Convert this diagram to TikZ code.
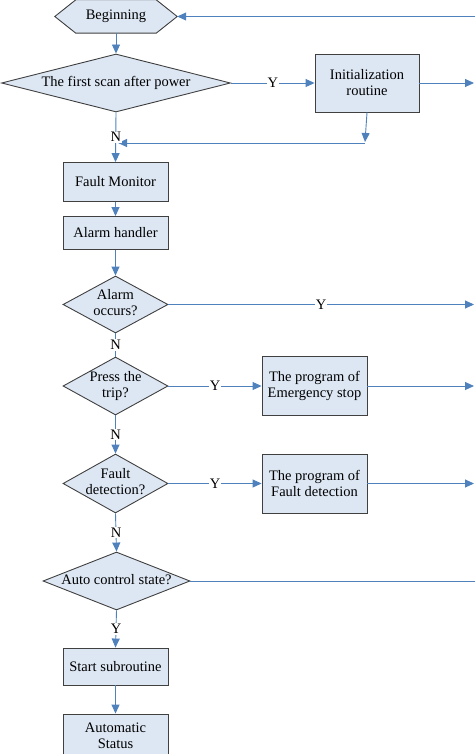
\documentclass[tikz,border=0pt]{standalone}
\usepackage{fontspec}
\setmainfont{Liberation Serif}
\usetikzlibrary{shapes.geometric,arrows.meta,backgrounds}
\definecolor{boxfill}{RGB}{221,231,243}
\definecolor{boxline}{RGB}{64,64,64}
\definecolor{conn}{RGB}{79,129,189}
\tikzset{
  box/.style={draw=boxline,fill=boxfill,line width=0.9pt,rectangle,inner sep=0pt,align=center},
  dia/.style={draw=boxline,fill=boxfill,line width=0.9pt,diamond,inner sep=0pt,aspect=1},
  conline/.style={draw=conn,line width=0.9pt},
  arr/.style={conline,-{Triangle[length=9pt,width=8pt]}},
  lab/.style={fill=white,inner sep=1pt,text=black}
}
\newcommand{\dtext}[1]{\makebox[0pt]{\begin{tabular}{@{}c@{}}#1\end{tabular}}}
\begin{document}
\begin{tikzpicture}[x=1pt,y=-1pt,font=\fontsize{14.5}{16}\selectfont]
\useasboundingbox (0,0) rectangle (474,754);
% nodes
\node[inner sep=0pt,minimum width=122pt,minimum height=33pt] (beg) at (116,16.5) {Beginning};
\begin{scope}[on background layer]
\draw[draw=boxline,fill=boxfill,line width=0.9pt] (beg.west) -- ([xshift=21pt]beg.north west) -- ([xshift=-21pt]beg.north east) -- (beg.east) -- ([xshift=-21pt]beg.south east) -- ([xshift=21pt]beg.south west) -- cycle;
\end{scope}
\node[dia,minimum width=229pt,minimum height=58pt] (d1) at (116,83) {\dtext{The first scan after power}};
\node[box,minimum width=104pt,minimum height=58pt] (init) at (367,83) {Initialization\\routine};
\node[box,minimum width=105pt,minimum height=39pt] (fm) at (115.5,182) {Fault Monitor};
\node[box,minimum width=105pt,minimum height=33pt] (ah) at (115.5,233) {Alarm handler};
\node[dia,minimum width=105pt,minimum height=57pt] (d2) at (115.5,304.5) {\dtext{Alarm\\occurs?}};
\node[dia,minimum width=105pt,minimum height=58pt] (d3) at (115.5,386) {\dtext{Press the\\trip?}};
\node[box,minimum width=105pt,minimum height=59pt] (ep) at (314.5,386) {The program of\\Emergency stop};
\node[dia,minimum width=105pt,minimum height=59pt] (d4) at (115.5,483.5) {\dtext{Fault\\detection?}};
\node[box,minimum width=105pt,minimum height=59pt] (fd) at (314.5,483.5) {The program of\\Fault detection};
\node[dia,minimum width=147pt,minimum height=58pt] (d5) at (116.5,581) {\dtext{Auto control state?}};
\node[box,minimum width=105pt,minimum height=37pt] (ss) at (115.5,666.5) {Start subroutine};
\node[box,minimum width=105pt,minimum height=44pt] (as) at (115.5,736) {Automatic\\Status};
% free ends
\coordinate (r0) at (476,16.5);
\coordinate (r1) at (474,83);
\coordinate (r2) at (474,304.5);
\coordinate (r3) at (474,386);
\coordinate (r4) at (474,483.5);
\coordinate (r5) at (476,581);
\coordinate (ja) at (365,142);
\coordinate (jb) at (365,143);
\coordinate (jc) at (118,143);
% connectors
\draw[arr] (r0) -- (beg.east);
\draw[arr] (beg.south) -- (d1.north);
\draw[arr] (d1.east) -- node[lab]{Y} (init.west);
\draw[arr] (init.east) -- (r1);
\draw[arr] (init.south) -- (ja);
\draw[arr] (jb) -- (jc);
\draw[arr] (d1.south) -- node[lab,pos=0.5]{N} (fm.north);
\draw[arr] (fm.south) -- (ah.north);
\draw[arr] (ah.south) -- (d2.north);
\draw[arr] (d2.east) -- node[lab]{Y} (r2);
\draw[conline] (d2.south) -- node[lab]{N} (d3.north);
\draw[arr] (d3.east) -- node[lab]{Y} (ep.west);
\draw[arr] (ep.east) -- (r3);
\draw[arr] (d3.south) -- node[lab]{N} (d4.north);
\draw[arr] (d4.east) -- node[lab]{Y} (fd.west);
\draw[arr] (fd.east) -- (r4);
\draw[arr] (d4.south) -- node[lab]{N} (d5.north);
\draw[conline] (d5.east) -- (r5);
\draw[arr] (d5.south) -- node[lab]{Y} (ss.north);
\draw[arr] (ss.south) -- (as.north);
\end{tikzpicture}
\end{document}
